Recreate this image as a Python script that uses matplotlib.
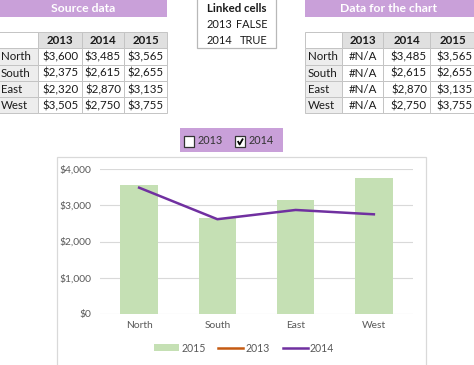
import numpy as np
import matplotlib
matplotlib.use("Agg")
import matplotlib.pyplot as plt
from matplotlib.patches import Rectangle
from matplotlib.ticker import FuncFormatter

plt.rcParams['font.family'] = ['Lato', 'DejaVu Sans']

# data
regions = ["North", "South", "East", "West"]
years = ["2013", "2014", "2015"]
sales_2013 = [3600, 2375, 2320, 3505]
sales_2014 = [3485, 2615, 2870, 2750]
sales_2015 = [3565, 2655, 3135, 3755]
linked_2013 = False
linked_2014 = True

source = [sales_2013, sales_2014, sales_2015]
chart_2013 = [v if linked_2013 else np.nan for v in sales_2013]
chart_2014 = [v if linked_2014 else np.nan for v in sales_2014]
chart_data = [chart_2013, chart_2014, sales_2015]

W, H = 474, 365
purple = "#C9A0D9"
hdr_fill = "#E0E0E0"
lab_fill = "#EDEDED"
grid_c = "#C4C4C4"
txt = "#1a1a1a"

fig = plt.figure(figsize=(W / 100, H / 100), dpi=100)
bg = fig.add_axes([0, 0, 1, 1])
bg.set_xlim(0, W)
bg.set_ylim(H, 0)
bg.axis("off")


def money(v):
    return "${:,.0f}".format(v)


def draw_table(colx, y0, rowh, values):
    # colx: column boundaries (label col + 3 year cols)
    nrows = len(regions) + 1
    for r in range(nrows):
        for c in range(4):
            xl, xr = colx[c], colx[c + 1]
            yt = y0 + r * rowh
            if r == 0 and c == 0:
                fc = "white"
            elif r == 0:
                fc = hdr_fill
            elif c == 0:
                fc = lab_fill
            else:
                fc = "white"
            bg.add_patch(Rectangle((xl, yt), xr - xl, rowh, facecolor=fc,
                                   edgecolor=grid_c, lw=0.7))
            ym = yt + rowh / 2 + 0.5
            if r == 0 and c > 0:
                bg.text((xl + xr) / 2, ym, years[c - 1], ha="center", va="center",
                        fontsize=8.3, fontweight="bold", color=txt)
            elif r > 0 and c == 0:
                bg.text(xl + 3, ym, regions[r - 1], ha="left", va="center",
                        fontsize=8.3, color=txt)
            elif r > 0:
                v = values[c - 1][r - 1]
                if np.isnan(v):
                    bg.text((xl + xr) / 2, ym, "#N/A", ha="center", va="center",
                            fontsize=8.3, color=txt)
                else:
                    bg.text(xr - 3, ym, money(v), ha="right", va="center",
                            fontsize=8.3, color=txt)


# title bars
bg.add_patch(Rectangle((0, 0), 167, 17, facecolor=purple, edgecolor="none"))
bg.text(83, 9, "Source data", ha="center", va="center", color="white",
        fontsize=8.8, fontweight="bold")
bg.add_patch(Rectangle((305, 0), W - 305, 17, facecolor=purple, edgecolor="none"))
bg.text(389, 9, "Data for the chart", ha="center", va="center", color="white",
        fontsize=8.8, fontweight="bold")

draw_table([-2, 38, 82, 124, 167], 32, 16.3, [list(map(float, s)) for s in source])
draw_table([305, 342, 383, 430, 476], 32, 16.3, [list(map(float, s)) for s in chart_data])

# linked cells box
bg.add_patch(Rectangle((197, -2), 79, 50, facecolor="white", edgecolor="#B8B8B8", lw=0.9))
bg.text(236.5, 8.5, "Linked cells", ha="center", va="center", fontsize=8.3,
        fontweight="bold", color=txt)
bg.text(206, 25, "2013", ha="left", va="center", fontsize=7.9, color=txt)
bg.text(268, 25, str(linked_2013).upper(), ha="right", va="center", fontsize=7.9, color=txt)
bg.text(206, 41, "2014", ha="left", va="center", fontsize=7.9, color=txt)
bg.text(267, 41, str(linked_2014).upper(), ha="right", va="center", fontsize=7.9, color=txt)

# checkbox strip
bg.add_patch(Rectangle((180, 128), 103, 24, facecolor=purple, edgecolor="none"))
for bx, lab, on in [(184, "2013", linked_2013), (235, "2014", linked_2014)]:
    bg.add_patch(Rectangle((bx, 136), 10.5, 10.5, facecolor="white",
                           edgecolor="#333333", lw=0.9))
    if on:
        bg.plot([bx + 2.8, bx + 4.6, bx + 8.0], [141, 144.5, 138.5],
                color="black", lw=1.3, solid_capstyle="butt")
    bg.text(bx + 14, 140.5, lab, ha="left", va="center", fontsize=7.8, color="#333333")

# chart frame
bg.add_patch(Rectangle((57, 157), 369, 215, facecolor="white", edgecolor="#D9D9D9", lw=0.9))

# chart
ax = fig.add_axes([100 / W, (H - 314) / H, 313 / W, 145 / H])
x = np.arange(len(regions))
bars = ax.bar(x, sales_2015, width=0.48, color="#C5E0B4", zorder=2, label="2015")
l13, = ax.plot(x, chart_2013, color="#C55A11", lw=1.8, zorder=3, label="2013")
l14, = ax.plot(x, chart_2014, color="#7030A0", lw=1.8, zorder=3, label="2014")
ax.set_xlim(-0.5, 3.5)
ax.set_ylim(0, 4000)
ax.set_yticks([0, 1000, 2000, 3000, 4000])
ax.yaxis.set_major_formatter(FuncFormatter(lambda v, p: money(v)))
ax.set_xticks(x)
ax.set_xticklabels(regions)
ax.grid(axis="y", color="#D9D9D9", lw=0.8, zorder=0)
for s in ax.spines.values():
    s.set_visible(False)
ax.tick_params(length=0, labelsize=7.4, labelcolor="#595959")
ax.tick_params(axis="y", pad=6)
ax.tick_params(axis="x", pad=5)
ax.set_facecolor("none")

fig.legend(handles=[bars, l13, l14], labels=["2015", "2013", "2014"],
           loc="center", bbox_to_anchor=(244 / W, (H - 348) / H), ncol=3,
           frameon=False, fontsize=7.6, labelcolor="#595959", handlelength=2.4,
           handletextpad=0.2, columnspacing=1.2, handleheight=0.6)

fig.savefig("out.png", dpi=100)
